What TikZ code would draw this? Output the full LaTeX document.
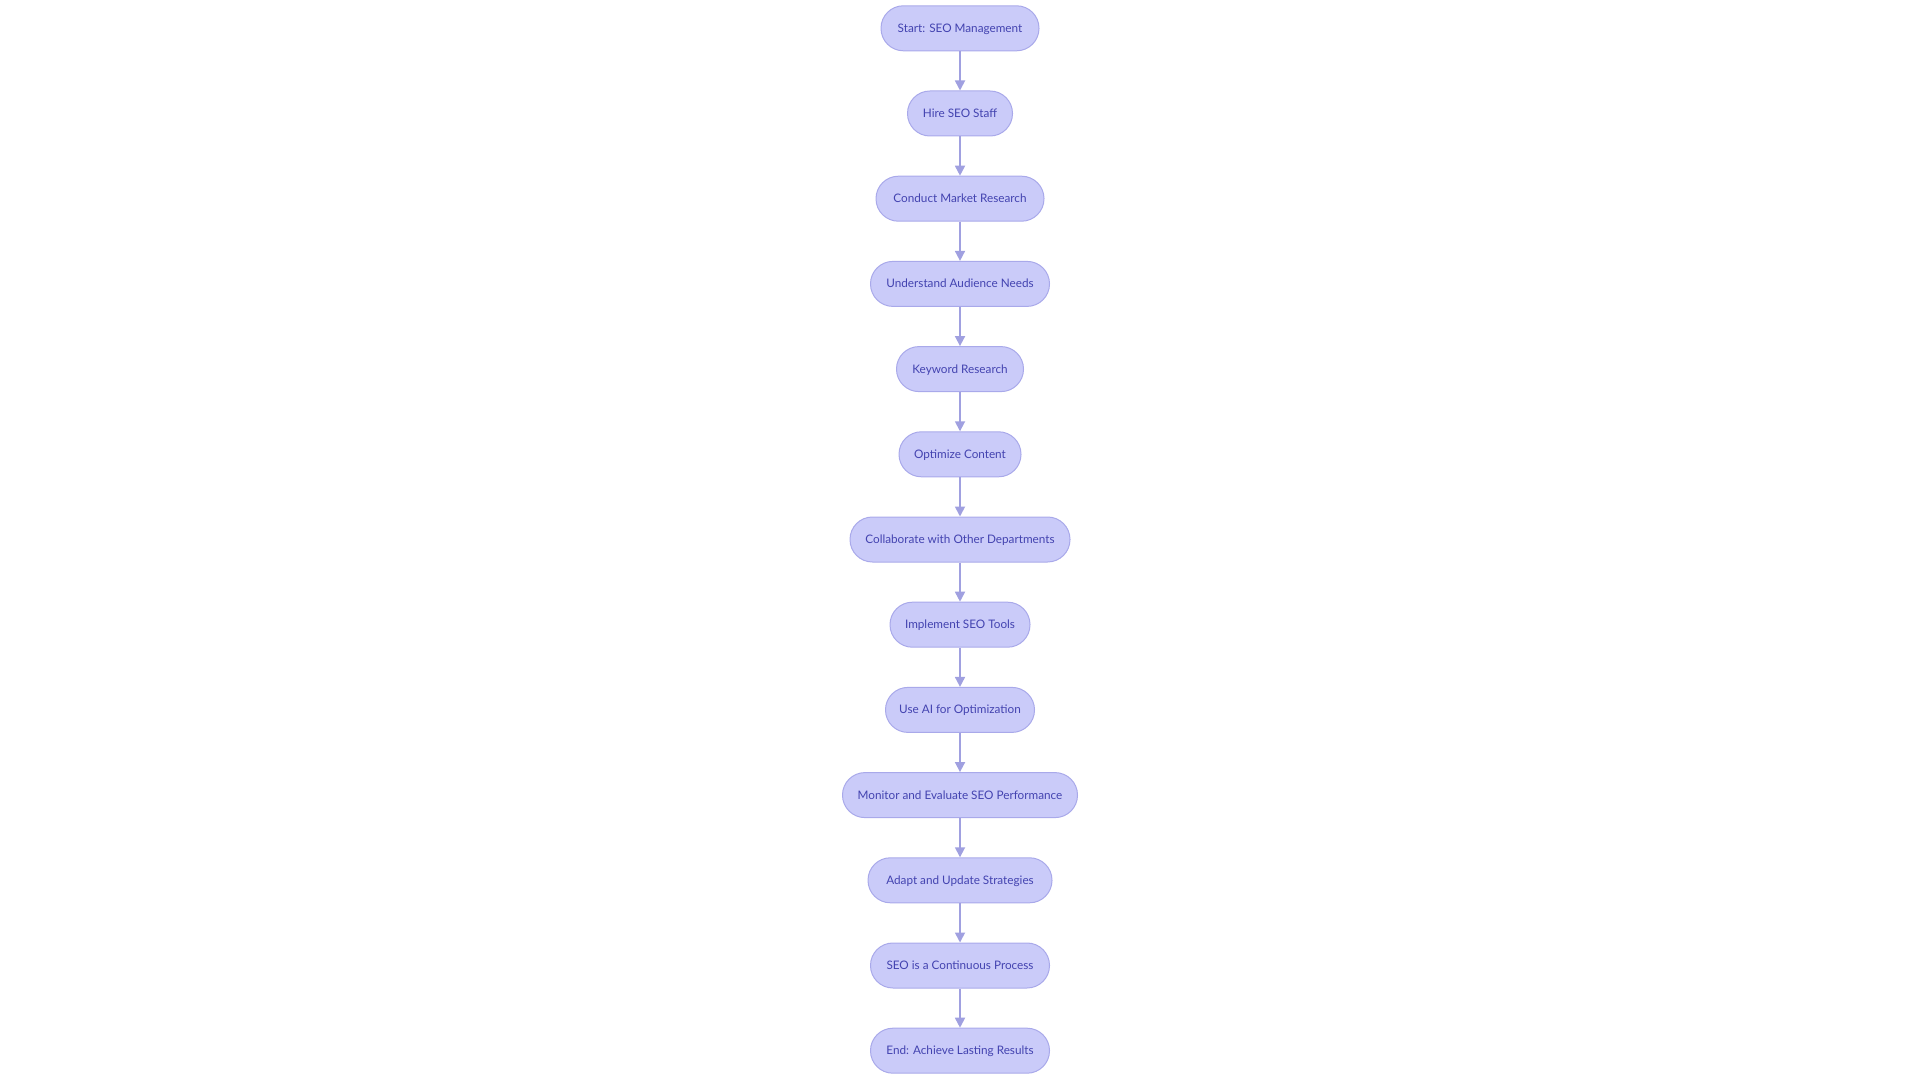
\documentclass[tikz,border=0pt]{standalone}
\usepackage{fontspec}
\setmainfont{Lato}
\usetikzlibrary{arrows.meta}
\definecolor{nodefill}{HTML}{CACBF9}
\definecolor{nodedraw}{HTML}{A9A9EA}
\definecolor{nodetext}{HTML}{4343B0}
\definecolor{edgecol}{HTML}{A0A0E0}
\tikzset{
  flowbox/.style={draw=nodedraw, line width=0.75pt, fill=nodefill, text=nodetext,
    rounded corners=16.8pt, minimum height=33.75pt, inner sep=0pt,
    text height=0.72em, text depth=0.12em,
    font=\fontsize{8.8pt}{10.5pt}\selectfont},
  flowedge/.style={draw=edgecol, line width=1.3pt, -{Triangle[length=7.5pt,width=7.5pt]}}
}
\begin{document}
\begin{tikzpicture}[x=0.75pt,y=-0.75pt]
\useasboundingbox (0,0) rectangle (1920,1080);
\foreach \i/\w/\t in {
  0/158/{Start: SEO Management},
  1/105/{Hire SEO Staff},
  2/168/{Conduct Market Research},
  3/179/{Understand Audience Needs},
  4/127/{Keyword Research},
  5/122/{Optimize Content},
  6/220/{Collaborate with Other Departments},
  7/140/{Implement SEO Tools},
  8/149/{Use AI for Optimization},
  9/235/{Monitor and Evaluate SEO Performance},
  10/184/{Adapt and Update Strategies},
  11/179/{SEO is a Continuous Process},
  12/179/{End: Achieve Lasting Results}}
{
  \node[flowbox, minimum width=\w*0.75pt] (n\i) at (960, 28.3+85.2*\i) {\t};
}
\foreach \i [evaluate=\i as \j using int(\i+1)] in {0,...,11}
{
  \draw[flowedge] (n\i.south) -- (n\j.north);
}
\end{tikzpicture}
\end{document}
